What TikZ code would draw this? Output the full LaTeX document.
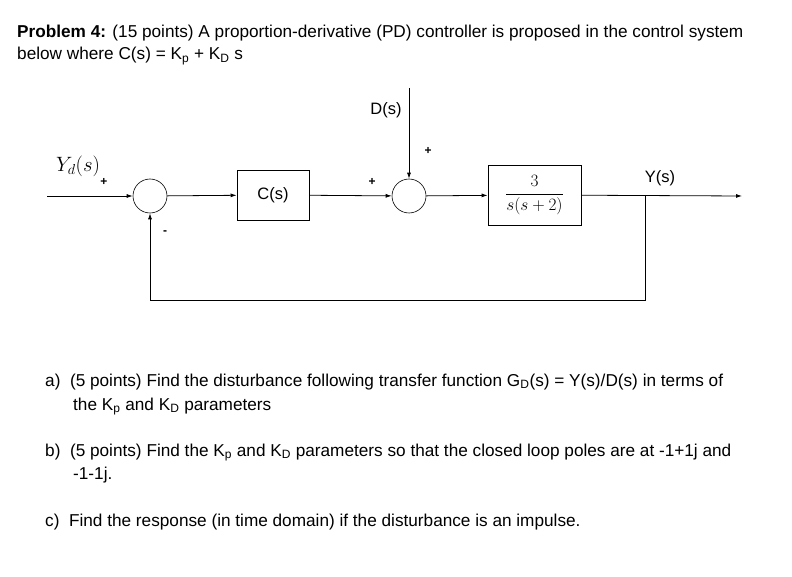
\documentclass[tikz,border=0pt]{standalone}
\usepackage{amsmath}
\usepackage{fontspec}
\setmainfont{Liberation Sans}
\usetikzlibrary{arrows.meta}
\begin{document}
\begin{tikzpicture}[x=1pt,y=-1pt,
  txt/.style={anchor=base west,inner sep=0pt,font=\fontsize{17.2}{22}\selectfont},
  lbl/.style={inner sep=0pt,font=\fontsize{16.5}{18}\selectfont},
  sgn/.style={inner sep=0pt,font=\bfseries\fontsize{12}{12}\selectfont},
  blk/.style={draw,line width=0.8pt,inner sep=0pt},
  sum/.style={draw,circle,line width=0.6pt,minimum size=34pt,inner sep=0pt},
  sig/.style={line width=0.8pt,-{Latex[length=6pt,width=4pt]}}]
\useasboundingbox (0,0) rectangle (792,577);
\node[txt] (t1) at (17,38) {\textbf{Problem 4:} (15 points) A proportion-derivative (PD) controller is proposed in the control system};
\node[txt] (t2) at (17,60) {below where C(s) = K\textsubscript{p} + K\textsubscript{D} s};
% diagram
\coordinate (in) at (47,196);
\node[sum] (s1) at (150,196) {};
\node[blk,minimum width=72pt,minimum height=50pt,font=\fontsize{16.5}{18}\selectfont] (c) at (273,195) {C(s)};
\node[sum] (s2) at (409,196) {};
\node[blk,minimum width=93pt,minimum height=60pt,font=\fontsize{19}{22}\selectfont] (g) at (534.5,195) {$\dfrac{3}{s(s+2)}$};
\coordinate (dtop) at (409,88);
\coordinate (br) at (645,196);
\coordinate (out) at (742,196);
\coordinate (fb1) at (645,300);
\coordinate (fb2) at (150,300);
\draw[sig] (in) -- (s1);
\draw[sig] (s1) -- (c);
\draw[sig] (c) -- (s2);
\draw[sig] (s2) -- (g);
\draw[sig] (dtop) -- (s2);
\draw[sig] (g) -- (out);
\draw[sig] (br) -- (fb1) -- (fb2) -- (s1);
\node[lbl,font=\fontsize{21}{24}\selectfont] (yd) at (78,166) {$Y_d(s)$};
\node[lbl] (ds) at (386,110) {D(s)};
\node[lbl] (ys) at (660,178) {Y(s)};
\node[sgn] (p1) at (104,182) {+};
\node[sgn] (p2) at (372,182) {+};
\node[sgn] (p3) at (428,151) {+};
\node[sgn] (m1) at (165,233) {-};
% questions
\node[txt] (a1) at (45,386) {a)\ \ (5 points) Find the disturbance following transfer function G\textsubscript{D}(s) = Y(s)/D(s) in terms of};
\node[txt] (a2) at (73,410) {the K\textsubscript{p} and K\textsubscript{D} parameters};
\node[txt] (b1) at (45,456) {b)\ \ (5 points) Find the K\textsubscript{p} and K\textsubscript{D} parameters so that the closed loop poles are at -1+1j and};
\node[txt] (b2) at (73,479) {-1-1j.};
\node[txt] (c1) at (45,526) {c)\ \ Find the response (in time domain) if the disturbance is an impulse.};
\end{tikzpicture}
\end{document}
